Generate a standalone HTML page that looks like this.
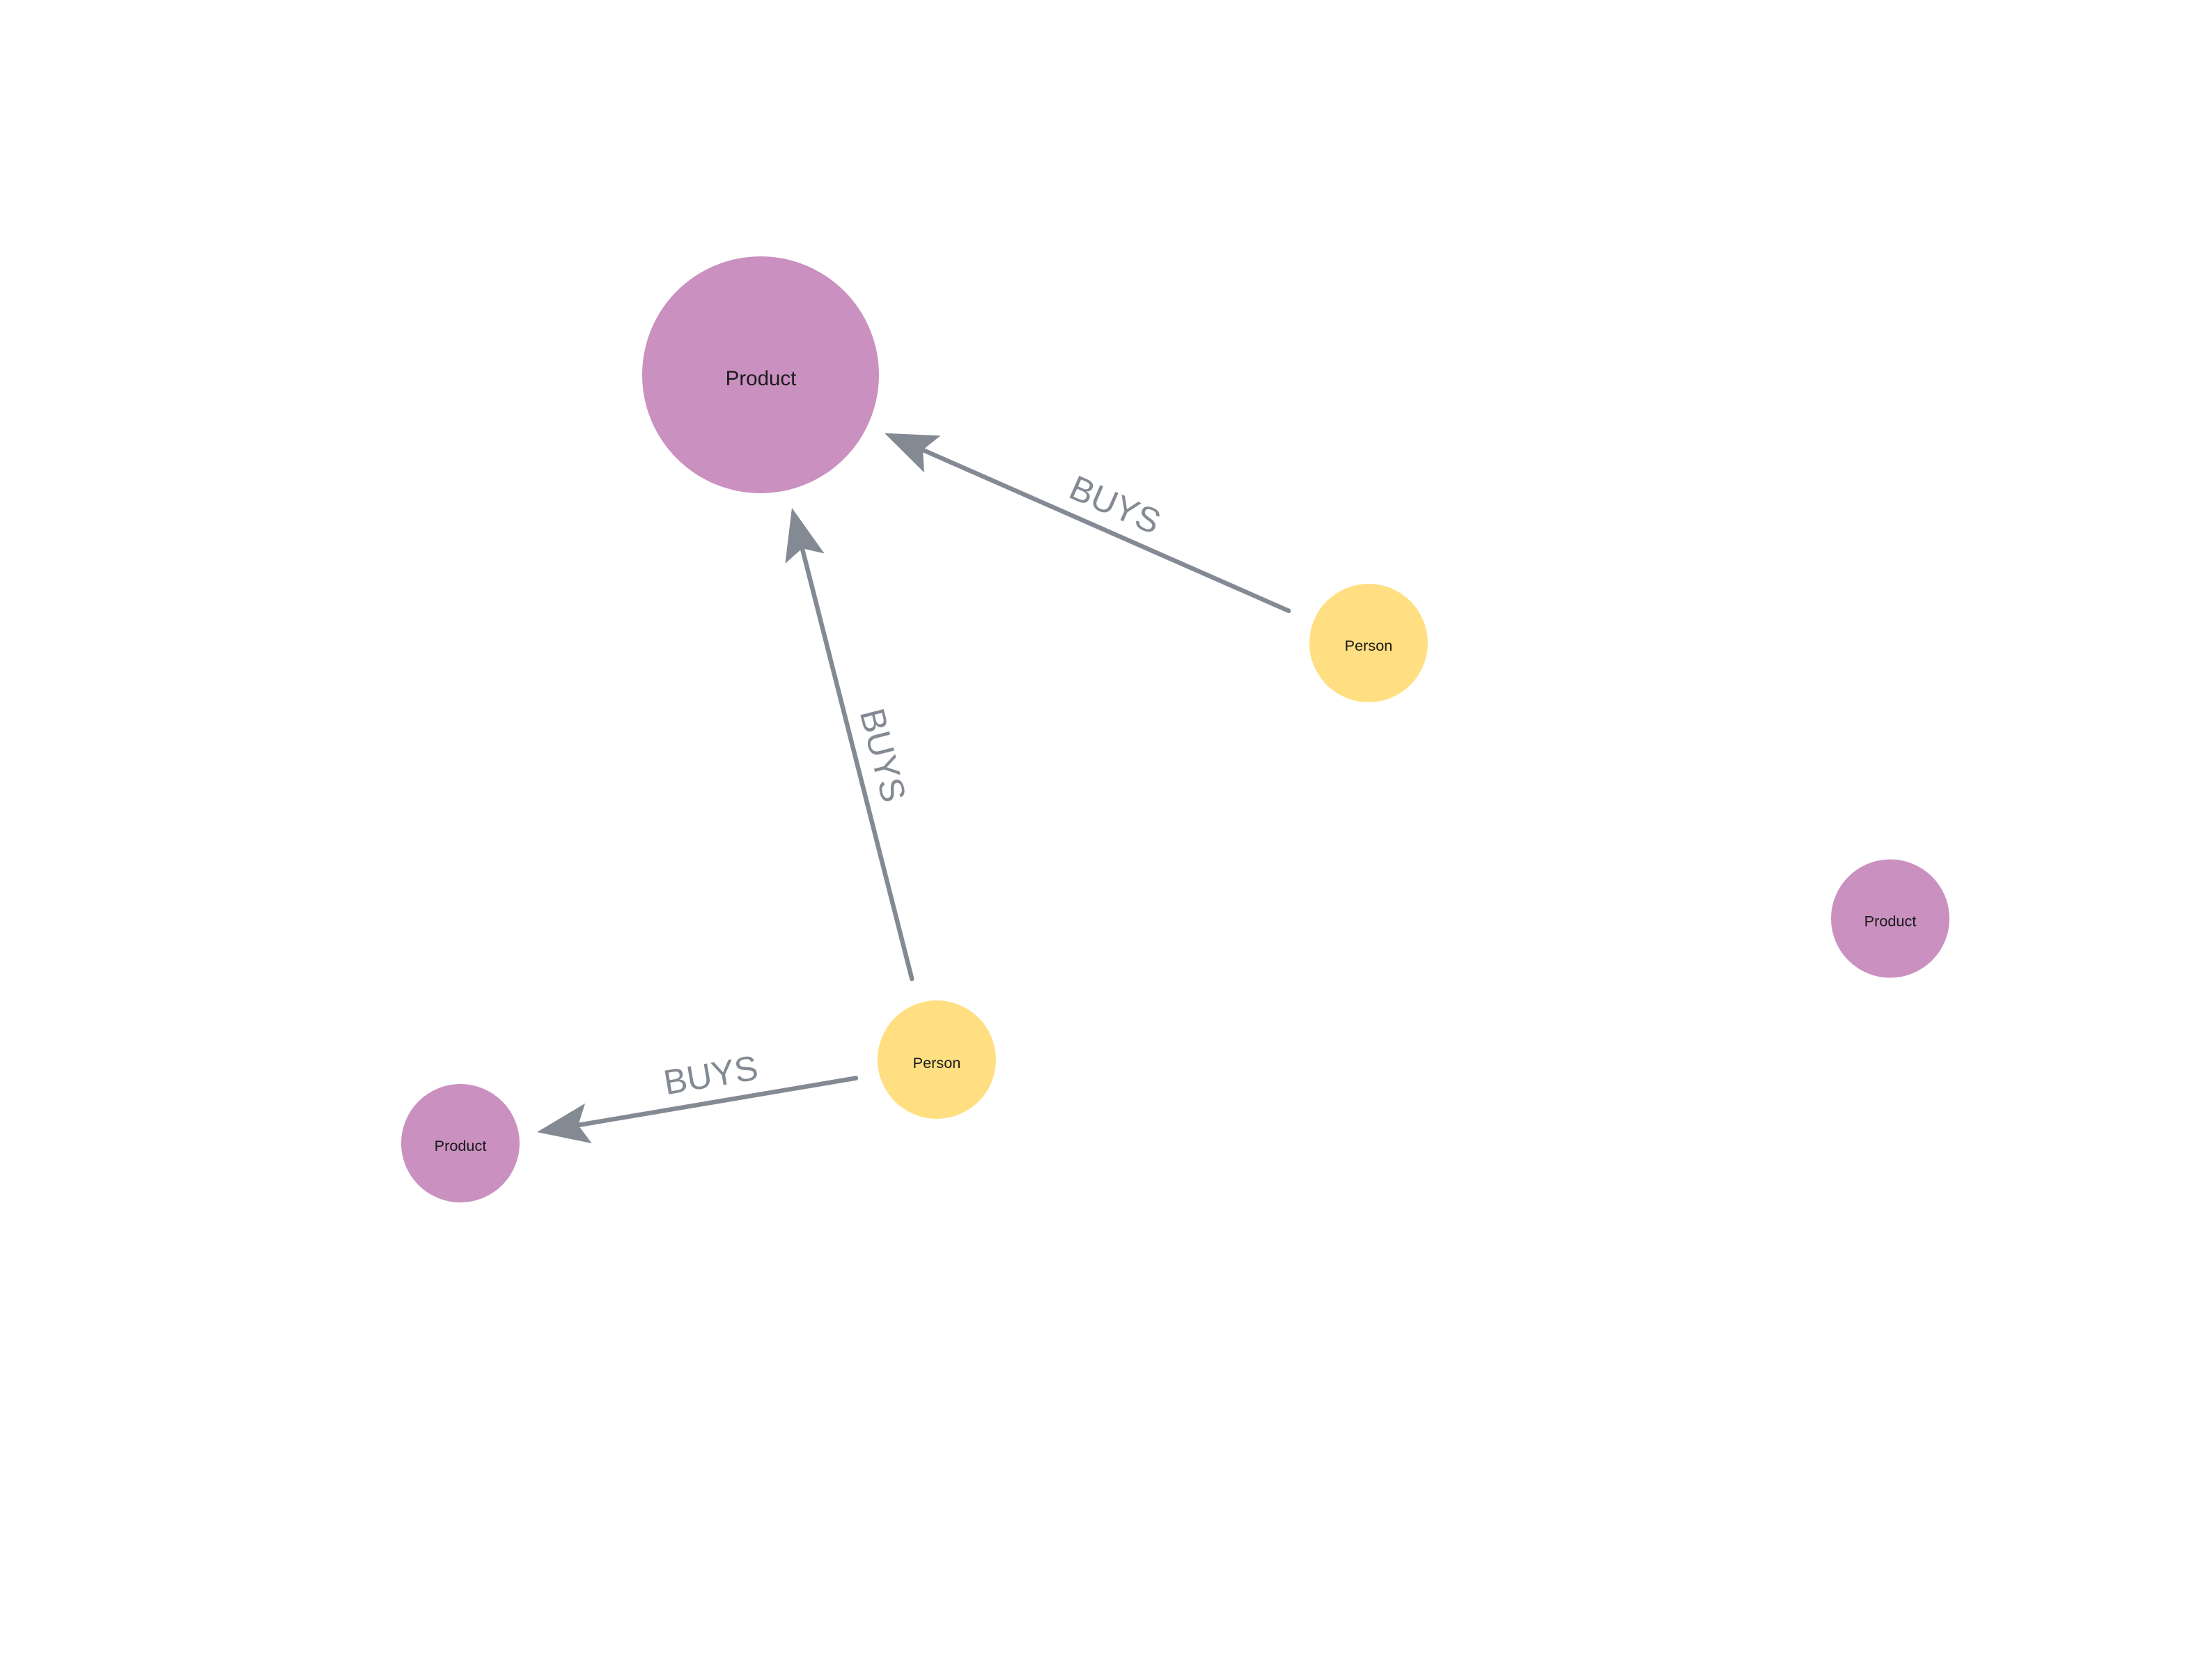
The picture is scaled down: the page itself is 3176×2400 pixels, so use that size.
<!DOCTYPE html>
<html>
<head>
<meta charset="utf-8">
<style>
  html, body { margin: 0; padding: 0; background: #ffffff; }
  body { width: 3176px; height: 2400px; overflow: hidden; }
  svg { display: block; }
  .lbl { font-family: "Liberation Sans", Arial, sans-serif; fill: #1b1b1b; }
  .rel { font-family: "Liberation Sans", Arial, sans-serif; fill: #848a93; font-size: 50px; }
</style>
</head>
<body>
<svg width="3176" height="2400" viewBox="0 0 3176 2400" xmlns="http://www.w3.org/2000/svg">
  <rect x="0" y="0" width="3176" height="2400" fill="#ffffff"/>

  <!-- Nodes -->
  <circle cx="1092" cy="538" r="170" fill="#C990C0"/>
  <text class="lbl" x="1092.5" y="553" font-size="29.5" text-anchor="middle">Product</text>

  <circle cx="1965" cy="923" r="85" fill="#FFDF81"/>
  <text class="lbl" x="1965" y="934" font-size="21.7" text-anchor="middle">Person</text>

  <circle cx="1345" cy="1521" r="85" fill="#FFDF81"/>
  <text class="lbl" x="1345" y="1533" font-size="21.7" text-anchor="middle">Person</text>

  <circle cx="661" cy="1641" r="85" fill="#C990C0"/>
  <text class="lbl" x="661" y="1652" font-size="21.7" text-anchor="middle">Product</text>

  <circle cx="2714" cy="1318.5" r="85" fill="#C990C0"/>
  <text class="lbl" x="2714" y="1329.5" font-size="21.7" text-anchor="middle">Product</text>

  <!-- Edge 1: Person (right) -> big Product -->
  <line x1="1850.3" y1="876.8" x2="1325" y2="645.8" stroke="#848a93" stroke-width="6.5" stroke-linecap="round"/>
  <polygon points="1270,621.7 1350.4,625.4 1325,645.8 1327,678.4" fill="#848a93"/>
  <text class="rel" text-anchor="middle" transform="translate(1594.2,740.2) rotate(23.73)">BUYS</text>

  <!-- Edge 2: Person (middle) -> big Product -->
  <line x1="1309.3" y1="1405.1" x2="1151.8" y2="787.1" stroke="#848a93" stroke-width="6.5" stroke-linecap="round"/>
  <polygon points="1137,729 1183.6,794.5 1151.8,787.1 1127.4,808.9" fill="#848a93"/>
  <text class="rel" text-anchor="middle" transform="translate(1251.2,1088.3) rotate(75.7)">BUYS</text>

  <!-- Edge 3: Person (middle) -> small Product (left) -->
  <line x1="1229" y1="1547.5" x2="830.2" y2="1615" stroke="#848a93" stroke-width="6.5" stroke-linecap="round"/>
  <polygon points="771,1625 840.1,1583.9 830.2,1615 849.7,1641.1" fill="#848a93"/>
  <text class="rel" text-anchor="middle" transform="translate(1023.4,1560) rotate(-9.6)">BUYS</text>
</svg>
</body>
</html>
